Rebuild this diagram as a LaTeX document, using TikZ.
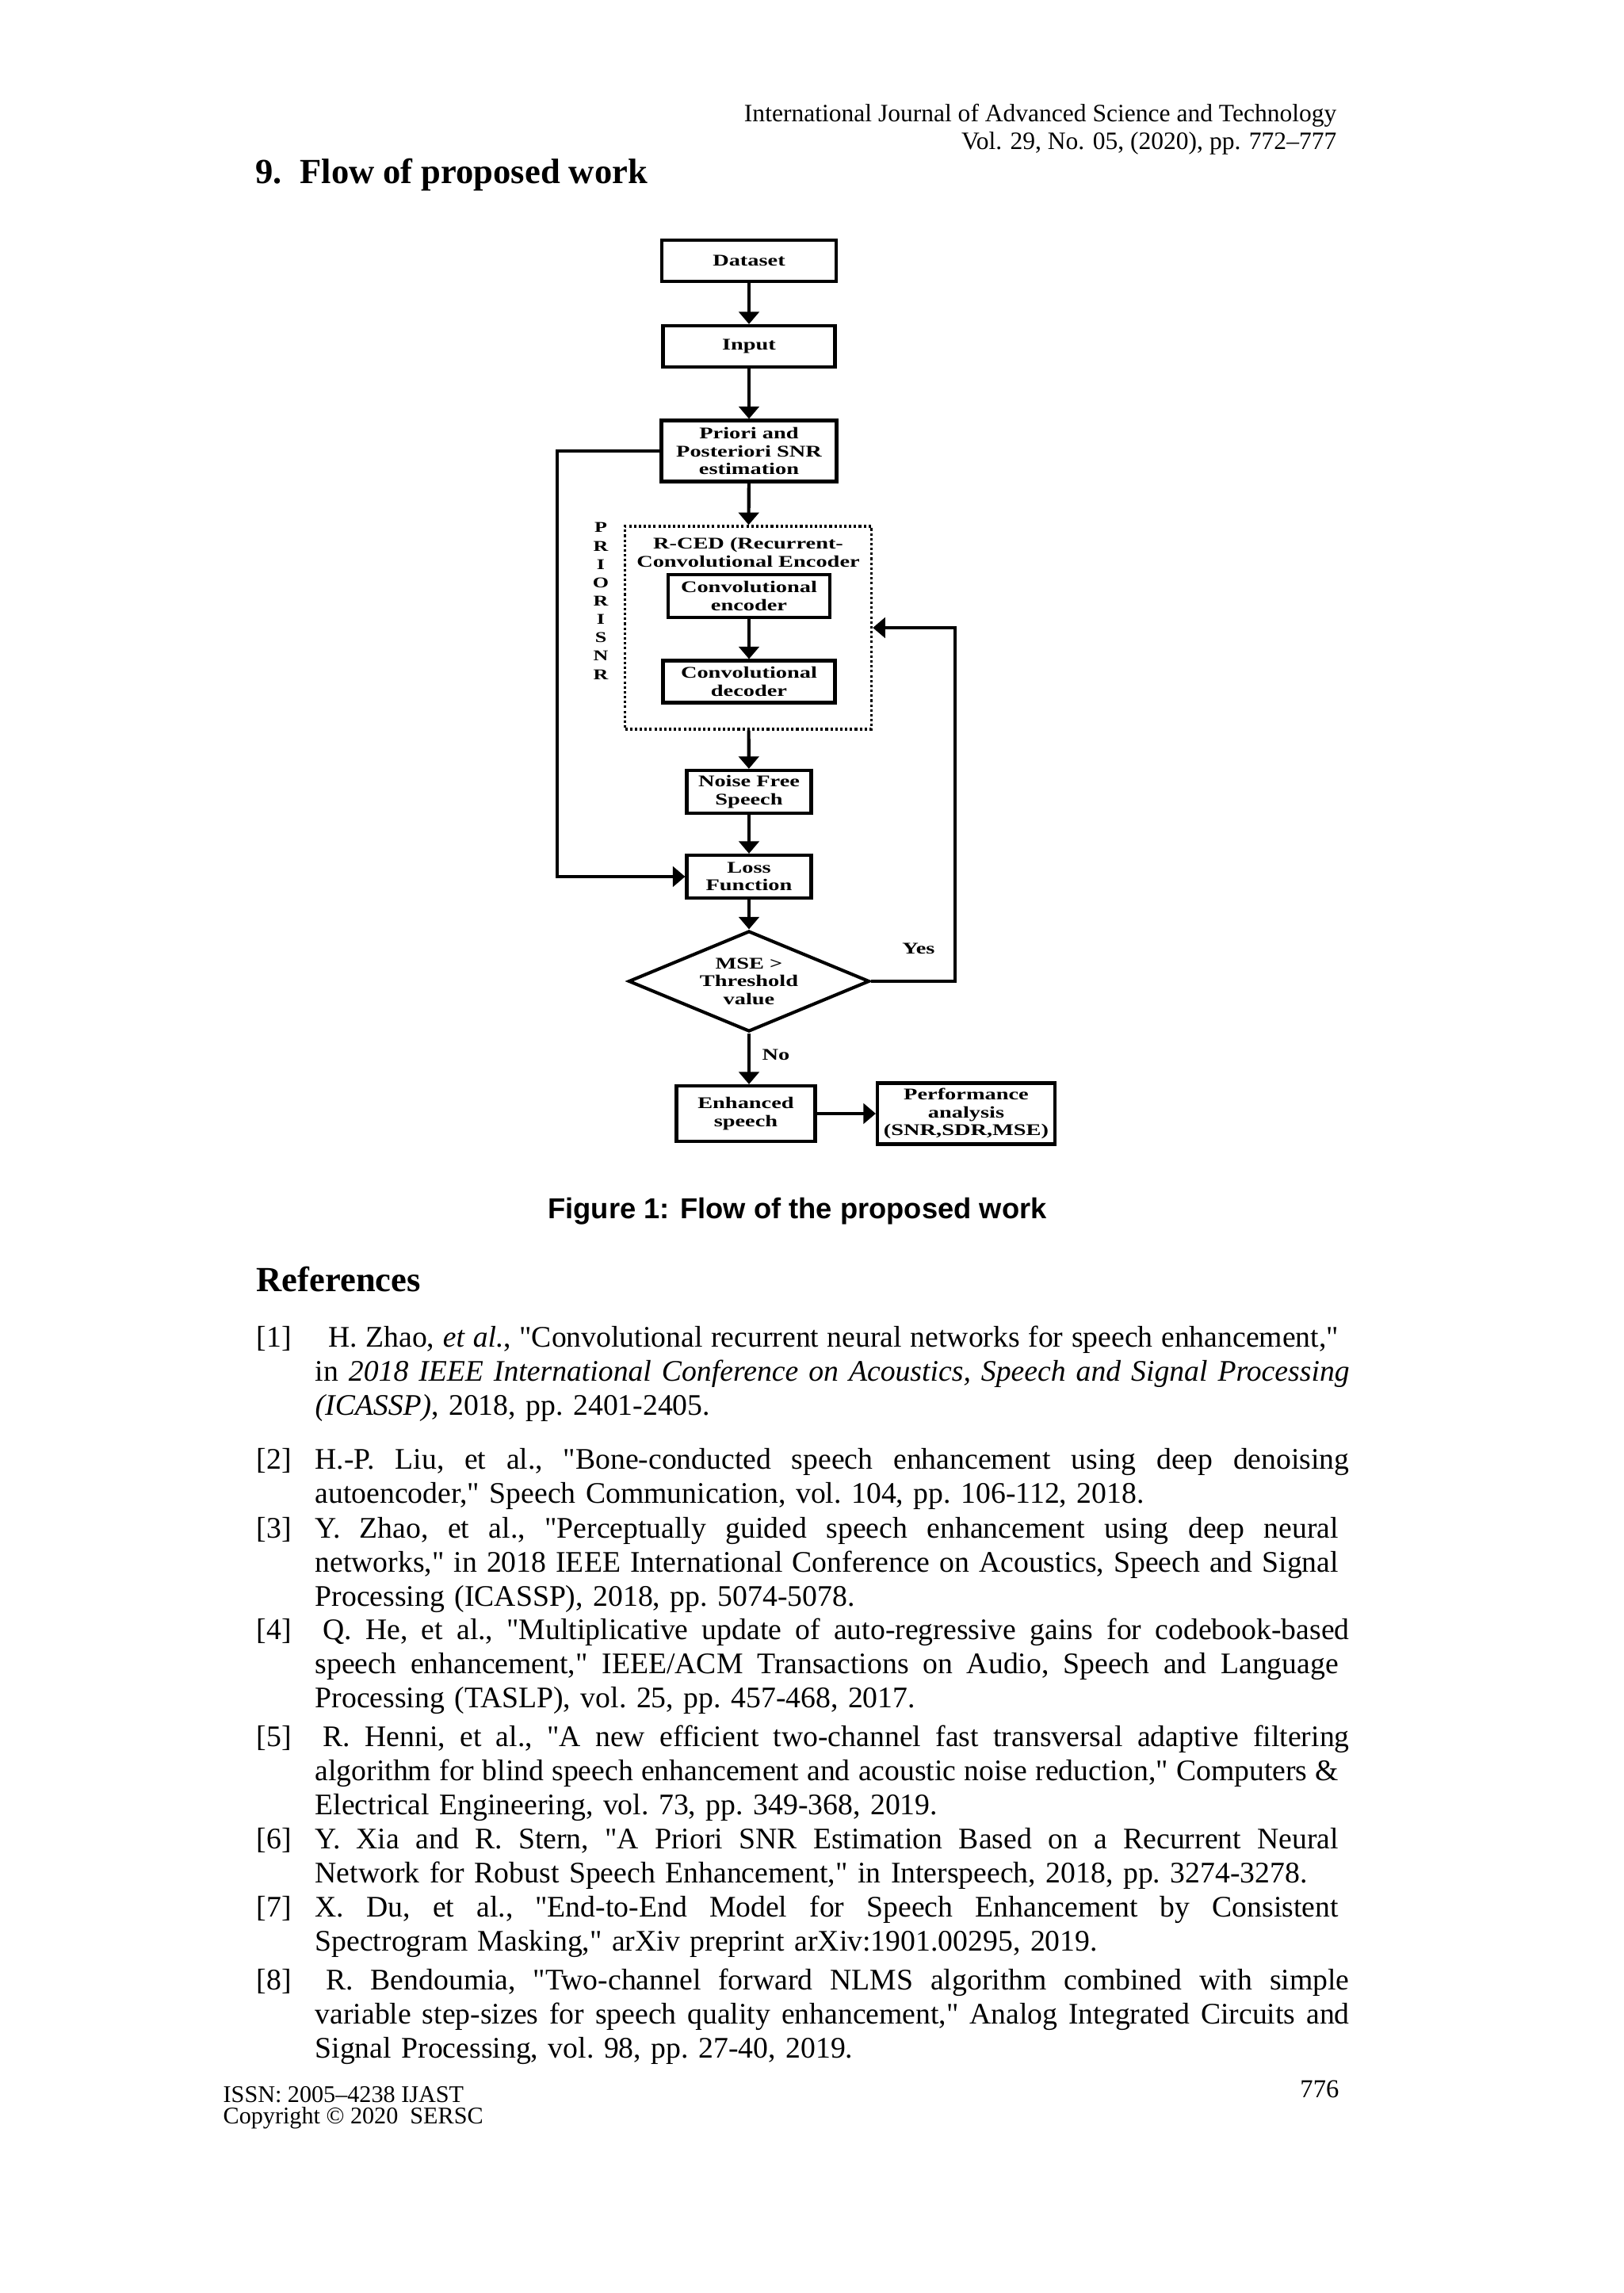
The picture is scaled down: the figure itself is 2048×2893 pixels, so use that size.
\documentclass[tikz,border=0pt]{standalone}
\usepackage{fontspec}
\setmainfont{Liberation Serif}
\newfontfamily\refserif{Liberation Serif}
\newfontfamily\chartserif[FakeStretch=1.38]{Liberation Serif}
\newfontfamily\capsans{Liberation Sans}
\usetikzlibrary{arrows.meta,calc,shapes.geometric}
\setlength{\parindent}{0pt}
\newcommand{\pxu}{0.10254mm}
\newcommand{\refline}[2][133.8mm]{{\spaceskip=0.25em plus 1em minus 0.07em\relax\xspaceskip=0.25em plus 1em minus 0.07em\relax\makebox[#1][s]{#2}}}

\begin{document}
\begin{tikzpicture}[x=\pxu,y=-\pxu,
  chartbox/.style={draw,line width=1.2pt,inner sep=0pt,align=center,
    font=\chartserif\bfseries\fontsize{6}{6.6}\selectfont},
  flow/.style={line width=1.2pt,-{Triangle[length=1.6mm,width=2.6mm]}},
  lbl/.style={inner sep=0pt,font=\chartserif\bfseries\fontsize{6}{6.6}\selectfont},
  reftext/.style={anchor=base west,inner sep=0pt,text width=133.8mm,align=left,
    font=\refserif\fontsize{11}{12.55}\selectfont\frenchspacing},
  reflabel/.style={anchor=base west,inner sep=0pt,font=\refserif\fontsize{11}{12.55}\selectfont},
  runhead/.style={inner sep=0pt,font=\fontsize{9.2}{11}\selectfont},
  foot/.style={anchor=base west,inner sep=0pt,font=\fontsize{8.8}{10}\selectfont}]

\fill[white] (0,0) rectangle (2048,2893);
\useasboundingbox (0,0) rectangle (2048,2893);

% running head and section title
\node[runhead,anchor=base east] (journal) at (1687,154) {International Journal of Advanced Science and Technology};
\node[runhead,anchor=base east] (volume) at (1687,189) {Vol. 29, No. 05, (2020), pp. 772–777};
\node[anchor=base west,inner sep=0pt,font=\bfseries\fontsize{13}{15}\selectfont] (sectitle) at (322,232) {9.\ \ Flow of proposed work};

% flow chart
\node[chartbox,minimum width=220*\pxu,minimum height=52*\pxu] (dataset) at (945,329) {Dataset};
\node[chartbox,minimum width=217*\pxu,minimum height=52*\pxu] (input) at (945,437) {Input};
\node[chartbox,minimum width=221*\pxu,minimum height=77*\pxu] (priori) at (945,569) {Priori and\\Posteriori SNR\\estimation};
\node[draw,line width=1pt,dash pattern=on 0.9pt off 0.9pt,inner sep=0pt,minimum width=311*\pxu,minimum height=256*\pxu] (rced) at (944,792) {};
\node[lbl,align=center] (rcedtitle) at (944,697) {R-CED (Recurrent-\\Convolutional Encoder};
\node[chartbox,minimum width=204*\pxu,minimum height=54*\pxu] (convenc) at (945,752) {Convolutional\\encoder};
\node[chartbox,minimum width=217*\pxu,minimum height=53*\pxu] (convdec) at (945,860) {Convolutional\\decoder};
\node[chartbox,minimum width=157*\pxu,minimum height=54*\pxu] (noisefree) at (945,999) {Noise Free\\Speech};
\node[chartbox,minimum width=157*\pxu,minimum height=54*\pxu] (loss) at (945,1106) {Loss\\Function};
\node[chartbox,diamond,aspect=2.39,minimum width=304*\pxu,minimum height=127*\pxu] (mse) at (945,1238) {MSE >\\Threshold\\value};
\node[chartbox,minimum width=175*\pxu,minimum height=70*\pxu] (enhanced) at (941,1405) {Enhanced\\speech};
\node[chartbox,minimum width=224*\pxu,minimum height=77*\pxu] (perf) at (1219,1405) {Performance\\analysis\\(SNR,SDR,MSE)};
\node[lbl,anchor=base,text width=5mm,align=center,font=\chartserif\bfseries\fontsize{5.5}{6.75}\selectfont] (priorisnr) at (758,672) {P\\R\\I\\O\\R\\I\\S\\N\\R};

\coordinate (snrbend) at (703,569);
\coordinate (yesbend) at (1205,1238);

\draw[flow] (dataset) -- (input);
\draw[flow] (input) -- (priori);
\draw[flow] (priori) -- (rced);
\draw[flow] (convenc) -- (convdec);
\draw[flow] (rced) -- (noisefree);
\draw[flow] (noisefree) -- (loss);
\draw[flow] (loss) -- (mse);
\draw[flow] (mse.south) -- node[lbl,pos=0.42,right=1.5mm] (nolbl) {No} (mse.south |- enhanced.north);
\draw[flow] (enhanced) -- (perf);
\draw[flow] (priori.west) -- (snrbend) |- (loss.west);
\draw[flow] (mse.east) -- node[lbl,pos=0.565,above=3.3mm] (yeslbl) {Yes} (yesbend) |- (rced.east);

% caption
\node[anchor=base,inner sep=0pt,font=\capsans\bfseries\fontsize{10.6}{12}\selectfont] (figcap) at (1006,1537) {Figure 1: Flow of the proposed work};

% references
\node[anchor=base west,inner sep=0pt,font=\bfseries\fontsize{13}{15}\selectfont] (refhead) at (323,1629) {References};

\node[reflabel] (lab1) at (323,1699) {[1]};
\node[reftext] (ref1) at (397,1699) {\refline[132.4mm]{\hspace*{1.7mm}H. Zhao, \textit{et al.}, "Convolutional recurrent neural networks for speech enhancement,"}\\
\refline{in \textit{2018 IEEE International Conference on Acoustics, Speech and Signal Processing}}\\
\textit{(ICASSP)}, 2018, pp. 2401-2405.};

\node[reflabel] (lab2) at (323,1853) {[2]};
\node[reftext] (ref2) at (397,1853) {\refline{H.-P. Liu, et al., "Bone-conducted speech enhancement using deep denoising}\\
autoencoder," Speech Communication, vol. 104, pp. 106-112, 2018.};

\node[reflabel] (lab3) at (323,1940) {[3]};
\node[reftext] (ref3) at (397,1940) {\refline[132.4mm]{Y. Zhao, et al., "Perceptually guided speech enhancement using deep neural}\\
\refline[132.4mm]{networks," in 2018 IEEE International Conference on Acoustics, Speech and Signal}\\
Processing (ICASSP), 2018, pp. 5074-5078.};

\node[reflabel] (lab4) at (323,2068) {[4]};
\node[reftext] (ref4) at (397,2068) {\refline{\hspace*{1mm}Q. He, et al., "Multiplicative update of auto-regressive gains for codebook-based}\\
\refline[132.4mm]{speech enhancement," IEEE/ACM Transactions on Audio, Speech and Language}\\
Processing (TASLP), vol. 25, pp. 457-468, 2017.};

\node[reflabel] (lab5) at (323,2203) {[5]};
\node[reftext] (ref5) at (397,2203) {\refline{\hspace*{1mm}R. Henni, et al., "A new efficient two-channel fast transversal adaptive filtering}\\
\refline[132.4mm]{algorithm for blind speech enhancement and acoustic noise reduction," Computers \&}\\
Electrical Engineering, vol. 73, pp. 349-368, 2019.};

\node[reflabel] (lab6) at (323,2332) {[6]};
\node[reftext] (ref6) at (397,2332) {\refline[132.4mm]{Y. Xia and R. Stern, "A Priori SNR Estimation Based on a Recurrent Neural}\\
Network for Robust Speech Enhancement," in Interspeech, 2018, pp. 3274-3278.};

\node[reflabel] (lab7) at (323,2418) {[7]};
\node[reftext] (ref7) at (397,2418) {\refline[132.4mm]{X. Du, et al., "End-to-End Model for Speech Enhancement by Consistent}\\
Spectrogram Masking," arXiv preprint arXiv:1901.00295, 2019.};

\node[reflabel] (lab8) at (323,2510) {[8]};
\node[reftext] (ref8) at (397,2510) {\refline{\hspace*{1.4mm}R. Bendoumia, "Two-channel forward NLMS algorithm combined with simple}\\
\refline{variable step-sizes for speech quality enhancement," Analog Integrated Circuits and}\\
Signal Processing, vol. 98, pp. 27-40, 2019.};

% footer
\node[foot] (issn) at (281,2652) {ISSN: 2005–4238 IJAST};
\node[foot] (copyright) at (281,2679) {Copyright © 2020\ \ SERSC};
\node[anchor=base east,inner sep=0pt,font=\fontsize{9.5}{11}\selectfont] (pagenum) at (1690,2646) {776};

\end{tikzpicture}
\end{document}
